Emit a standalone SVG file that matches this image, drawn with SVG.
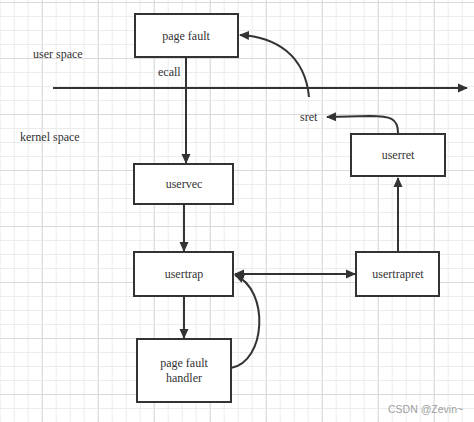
<svg xmlns="http://www.w3.org/2000/svg" width="474" height="422" viewBox="0 0 474 422">
<defs>
<pattern id="minor" width="14" height="14" patternUnits="userSpaceOnUse" x="13.7" y="2">
<path d="M0.5,0 V14 M0,0.5 H14" fill="none" stroke="#ececec" stroke-width="1"/>
</pattern>
<pattern id="major" width="56" height="56" patternUnits="userSpaceOnUse" x="41.7" y="2">
<path d="M0.5,0 V56 M0,0.5 H56" fill="none" stroke="#dadada" stroke-width="1"/>
</pattern>
<marker id="ah" viewBox="0 0 10 10" refX="9" refY="5" markerWidth="10" markerHeight="10" markerUnits="userSpaceOnUse" orient="auto-start-reverse">
<path d="M0,0.5 L10,5 L0,9.5 Z" fill="#333"/>
</marker>
<style>
.box{fill:#fff;stroke:#333;stroke-width:2}
.t{font-family:"Liberation Serif","Times New Roman",serif;font-size:12px;fill:#333;text-anchor:middle}
.l{font-family:"Liberation Serif","Times New Roman",serif;font-size:12px;fill:#333}
.c{fill:none;stroke:#333;stroke-width:2}
</style>
</defs>
<rect width="474" height="422" fill="#fff"/>
<rect width="474" height="422" fill="url(#minor)"/>
<rect width="474" height="422" fill="url(#major)"/>

<g id="labels">
<text class="l" x="33" y="58">user space</text>
<text class="l" x="20" y="141">kernel space</text>
<text class="l" x="158" y="76">ecall</text>
<text class="l" x="300" y="121">sret</text>
</g>

<g id="connectors">
<path class="c" d="M53,88 H467" marker-end="url(#ah)"/>
<path class="c" d="M186,57 V163" marker-end="url(#ah)"/>
<path class="c" d="M184,204 V251" marker-end="url(#ah)"/>
<path class="c" d="M184,296 V338" marker-end="url(#ah)"/>
<path class="c" d="M235,274 H355" marker-start="url(#ah)" marker-end="url(#ah)"/>
<path class="c" d="M398,252 V178" marker-end="url(#ah)"/>
<path class="c" d="M398,133 C398,118 390,116 370,116 L327,117" marker-end="url(#ah)"/>
<path class="c" d="M309,97 C305,55 276,37 240,35" marker-end="url(#ah)"/>
<path class="c" d="M231,368 C266,362 270,290 235,275" marker-end="url(#ah)"/>
</g>

<g id="page-fault">
<rect class="box" x="135" y="14" width="103" height="43"/>
<text class="t" x="186" y="40">page fault</text>
</g>
<g id="uservec">
<rect class="box" x="134" y="164" width="99" height="40"/>
<text class="t" x="184" y="188">uservec</text>
</g>
<g id="usertrap">
<rect class="box" x="134" y="252" width="99" height="44"/>
<text class="t" x="184" y="278">usertrap</text>
</g>
<g id="page-fault-handler">
<rect class="box" x="137" y="339" width="94" height="63"/>
<text class="t" x="184" y="367">page fault</text>
<text class="t" x="184" y="382">handler</text>
</g>
<g id="usertrapret">
<rect class="box" x="356" y="252" width="83" height="44"/>
<text class="t" x="398" y="278">usertrapret</text>
</g>
<g id="userret">
<rect class="box" x="351" y="134" width="94" height="42"/>
<text class="t" x="398" y="159">userret</text>
</g>

<text x="388" y="413" font-family="'Liberation Sans',Arial,sans-serif" font-size="10.5" fill="#a0a0a0">CSDN @Zevin~</text>
</svg>
